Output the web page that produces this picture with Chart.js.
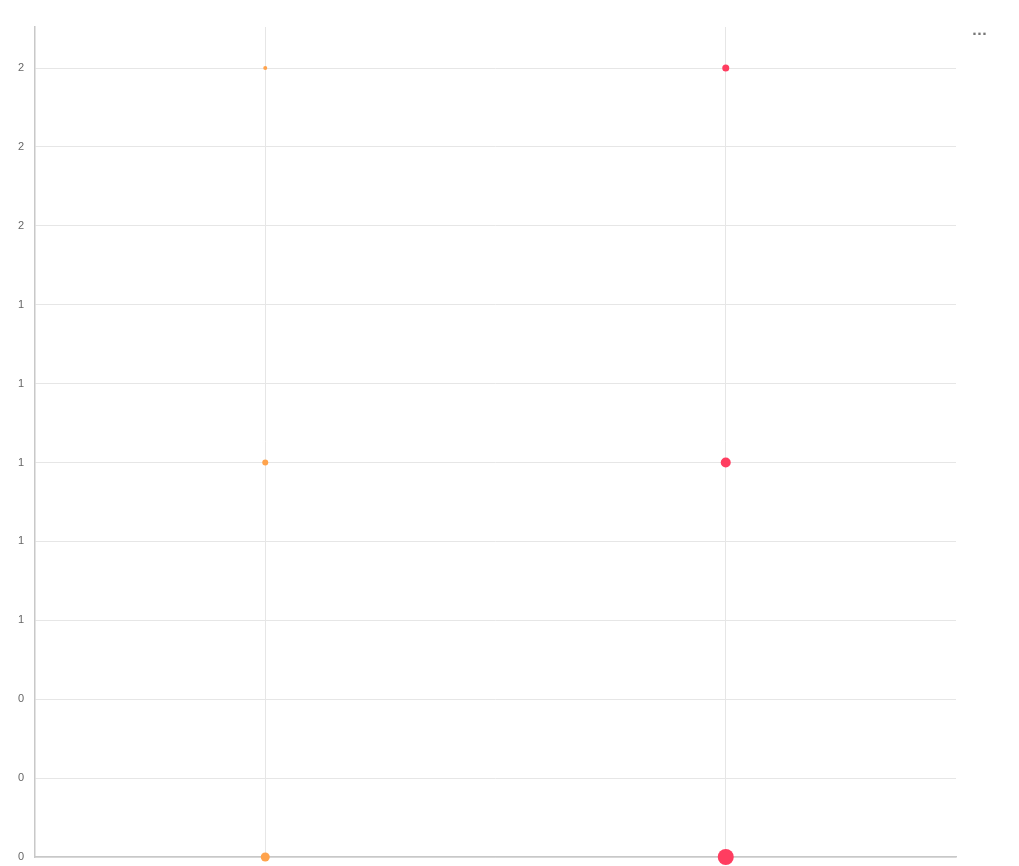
<!DOCTYPE html>
<html>
<head>
<meta charset="utf-8">
<script src="https://cdn.jsdelivr.net/npm/chart.js@4/dist/chart.umd.min.js"></script>
<style>
  html, body { margin: 0; padding: 0; background: #fff; }
  .chart-container { position: relative; width: 1019px; height: 866px; }
  .menu { position: absolute; left: 972px; top: 23px; font: bold 13px "DejaVu Sans", sans-serif; color: #777; }
</style>
</head>
<body>
<div class="chart-container">
  <canvas id="chart"></canvas>
  <div class="menu">...</div>
</div>
<script>
// 카테고리 (x축)
const categories = ['A', 'B'];
// y축 눈금 값
const yTicks = [0, 0.2, 0.4, 0.6, 0.8, 1.0, 1.2, 1.4, 1.6, 1.8, 2.0];
// 시리즈 값
const orangeY = [2, 1, 0];
const orangeR = [2, 3, 4.5];
const redY = [2, 1, 0];
const redR = [3.5, 5, 8];

const ctx = document.getElementById('chart').getContext('2d');
new Chart(ctx, {
  type: 'bubble',
  data: {
    labels: categories,
    datasets: [
      {
        label: 'orange',
        data: orangeY.map((y, i) => ({ x: categories[0], y: y, r: orangeR[i] })),
        backgroundColor: 'rgb(255, 163, 76)',
        borderWidth: 0,
        clip: false,
      },
      {
        label: 'red',
        data: redY.map((y, i) => ({ x: categories[1], y: y, r: redR[i] })),
        backgroundColor: 'rgb(255, 61, 96)',
        borderWidth: 0,
        clip: false,
      },
    ],
  },
  options: {
    responsive: true,
    maintainAspectRatio: false,
    animation: false,
    layout: { padding: { top: 27, right: 63, left: 0, bottom: 0 } },
    plugins: {
      legend: { display: false },
      tooltip: { enabled: false },
    },
    scales: {
      x: {
        type: 'category',
        labels: categories,
        offset: true,
        ticks: { display: false },
        grid: { color: '#e6e6e6', drawTicks: false },
        border: { color: '#c8c8c8', width: 1.5 },
        afterFit: (scale) => {
          scale.height = 9;
          scale.paddingLeft = 0;
          scale.paddingRight = 0;
        },
      },
      y: {
        min: 0,
        max: 2.104,
        afterBuildTicks: (scale) => { scale.ticks = yTicks.map((v) => ({ value: v })); },
        ticks: {
          padding: 11,
          color: '#666',
          font: { family: 'Helvetica, Arial, "Liberation Sans", sans-serif', size: 11 },
          callback: (v) => Math.round(v).toString(),
        },
        grid: { color: '#e6e6e6', drawTicks: false },
        border: { color: '#c8c8c8', width: 1.5 },
        afterFit: (scale) => {
          scale.width = 35;
          scale.paddingTop = 0;
          scale.paddingBottom = 0;
        },
      },
    },
  },
});
</script>
</body>
</html>
